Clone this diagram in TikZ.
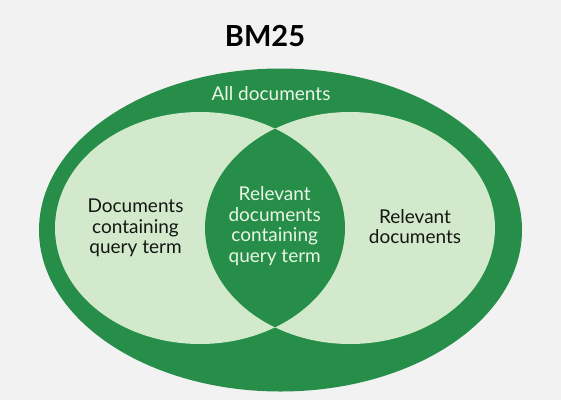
\documentclass[tikz,border=0pt]{standalone}
\usepackage{fontspec}
\setmainfont{Lato}
\definecolor{setgreen}{RGB}{38,142,72}
\definecolor{setpale}{RGB}{210,234,203}
\definecolor{paper}{RGB}{242,242,242}
\definecolor{inkdark}{RGB}{20,22,20}
\definecolor{inklight}{RGB}{234,246,230}
\tikzset{setlabel/.style={align=center, inner sep=0pt, text=inkdark, font=\fontsize{19}{20.5}\selectfont},
         setlabelw/.style={setlabel, text=inklight},
         title/.style={inner sep=0pt, anchor=base, font=\fontsize{29}{34}\selectfont\bfseries},
        }

\begin{document}
\begin{tikzpicture}[x=1pt,y=1pt]
        \fill[paper](0,0)rectangle(561,400);
        \useasboundingbox(0,0)rectangle(561,400);

        \fill[setgreen](280.5,170)ellipse[x radius=241.5, y radius=161.5];
        \fill[setpale](200,172)ellipse[x radius=145, y radius=116];
        \fill[setpale](350,172)ellipse[x radius=145, y radius=116];
        \begin{scope}
            \clip(200,172)ellipse[x radius=145, y radius=116];
            \fill[setgreen](350,172)ellipse[x radius=145, y radius=116];
        \end{scope}

        \node[title](bm)at(265,353.3){BM25};
        \node[setlabelw, anchor=base](all)at(271,300){All documents};
        \node[setlabel](query)at(135.5,172){Documents\\containing\\query term};
        \node[setlabelw](both)at(274.7,173.8){Relevant\\documents\\containing\\query term};
        \node[setlabel](rel)at(415,173.5){Relevant\\documents};
\end{tikzpicture}
\end{document}
